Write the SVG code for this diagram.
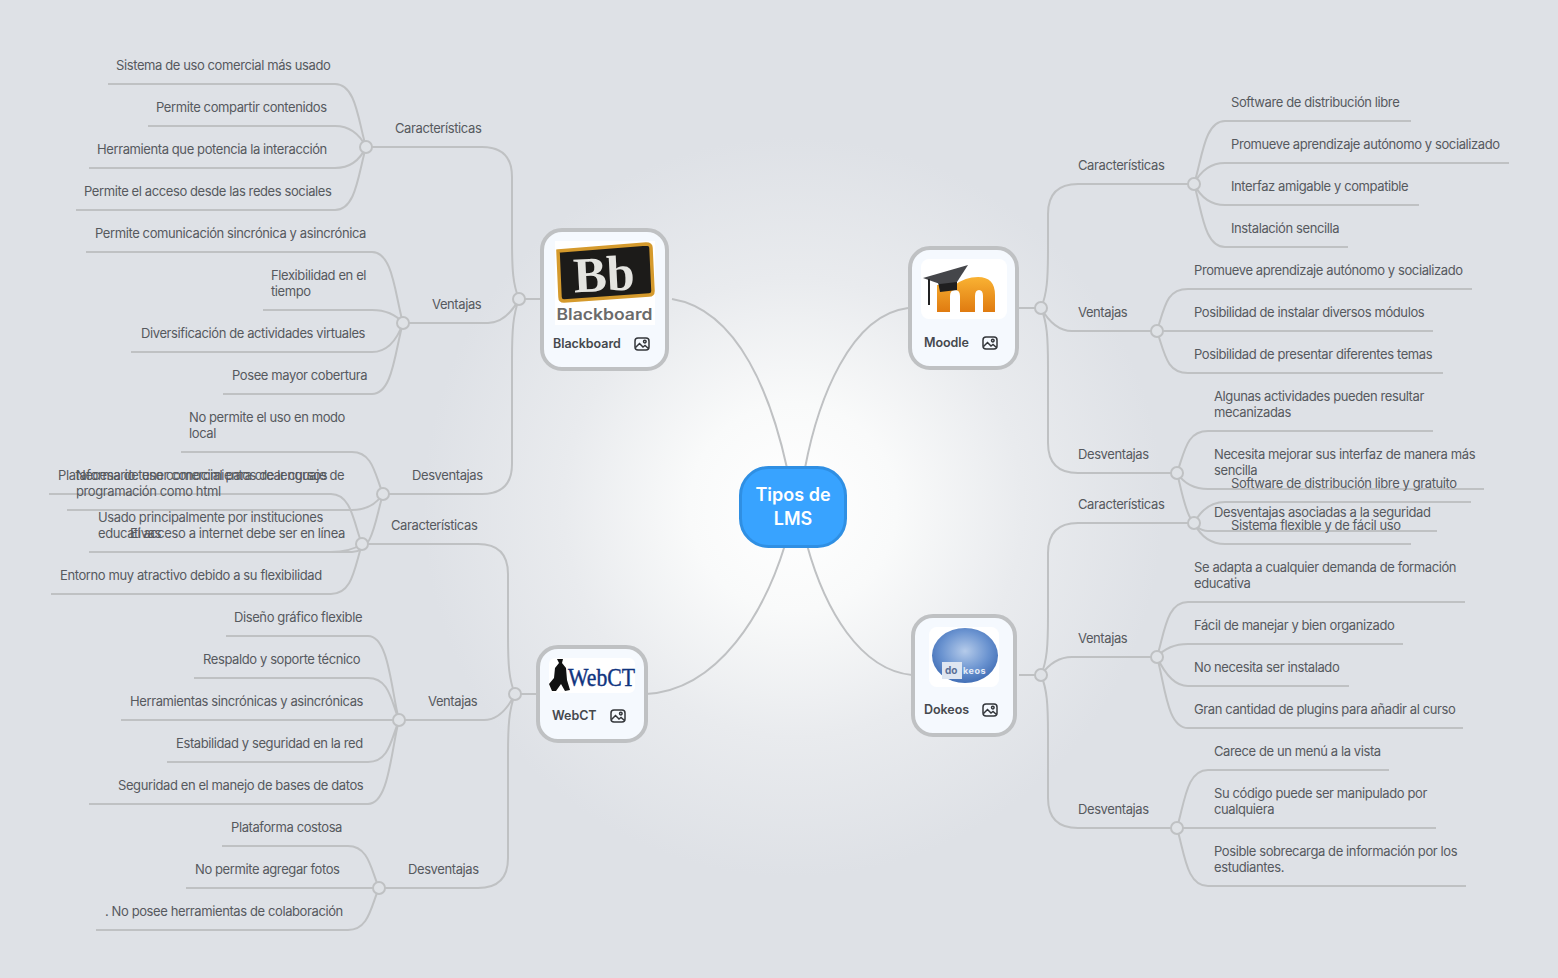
<svg xmlns="http://www.w3.org/2000/svg" width="1558" height="978" viewBox="0 0 1558 978">
<style>
text{font-family:Inter,"Noto Sans",sans-serif}
.t{font-size:13px;fill:#56595e;letter-spacing:-0.4px}
.b{font-size:12.5px;font-weight:600;fill:#45484d;letter-spacing:-0.05px}
.c path{fill:none;stroke:#bfc1c3;stroke-width:2}
.h{fill:#dfe2e6;stroke:#bfc1c3;stroke-width:2}
.n{fill:#f5f9fe;stroke:#bfc1c3;stroke-width:4}
.ic{fill:none;stroke:#33363a;stroke-width:1.5}
</style>
<defs>
<radialGradient id="bg" gradientUnits="userSpaceOnUse" cx="793" cy="507" r="370">
<stop offset="0" stop-color="#ffffff"/><stop offset="0.28" stop-color="#f9fafa"/><stop offset="0.62" stop-color="#e9ebee"/><stop offset="1" stop-color="#dee1e6"/>
</radialGradient>
<radialGradient id="dk" cx="0.5" cy="0.42" r="0.6"><stop offset="0" stop-color="#b5cbea"/><stop offset="0.6" stop-color="#6a93d0"/><stop offset="1" stop-color="#3f6cb4"/></radialGradient>
<linearGradient id="mo" x1="0" y1="0" x2="0" y2="1"><stop offset="0" stop-color="#f9b233"/><stop offset="1" stop-color="#e07b10"/></linearGradient>
<g id="ico"><rect x="-7" y="-6" width="14" height="12" rx="3" class="ic"/><circle cx="2.8" cy="-2.4" r="1.3" class="ic"/><path d="M-6.500 3.500 L-2.500 -0.500 L1 3 L3 1.500 L6.500 4.500" class="ic"/></g>
</defs>
<rect width="1558" height="978" fill="#dee1e6"/>
<rect width="1558" height="978" fill="url(#bg)"/>
<g id="connectors" class="c">
<path d="M787 468 C772 400 740 310 672 299"/>
<path d="M805 468 C818 400 850 315 908 308"/>
<path d="M785 545 C765 610 720 690 646 694"/>
<path d="M807 545 C825 610 860 670 912 675"/>
<path d="M541 299 H519 M519 299 C513 285 512 270 512 240 V177 Q512 147 482 147 H366 M519 299 Q506 323 488 323 H403 M519 299 C513 315 512 330 512 360 V464 Q512 494 482 494 H383"/>
<path d="M366 147 C358 120 356 84 335 84 H108 M366 147 C360 135 350 126 335 126 H148 M366 147 C360 160 350 168 335 168 H89 M366 147 C358 175 356 210 335 210 H76"/>
<path d="M403 323 C395 295 393 252 372 252 H86 M403 323 C397 316 387 310 372 310 H263 M403 323 C397 340 387 352 372 352 H131 M403 323 C395 350 393 394 372 394 H223"/>
<path d="M383 494 C375 475 373 452 352 452 H181 M383 494 C377 503 367 510 352 510 H67 M383 494 C375 520 373 552 352 552 H121"/>
<path d="M537 694 H515 M515 694 C509 680 508 665 508 635 V574 Q508 544 478 544 H362 M515 694 Q502 720 484 720 H399 M515 694 C509 710 508 725 508 755 V858 Q508 888 478 888 H379"/>
<path d="M362 544 C354 525 352 494 331 494 H49 M362 544 C356 548 346 552 331 552 H89 M362 544 C354 570 352 594 331 594 H51"/>
<path d="M399 720 C391 690 389 636 368 636 H226 M399 720 C391 700 389 678 368 678 H194 M399 720 H121 M399 720 C391 740 389 762 368 762 H167 M399 720 C391 750 389 804 368 804 H89"/>
<path d="M379 888 C371 870 369 846 348 846 H222 M379 888 H186 M379 888 C371 906 369 930 348 930 H96"/>
<path d="M1019 308 H1041 M1041 308 C1047 294 1048 279 1048 249 V214 Q1048 184 1078 184 H1194 M1041 308 Q1054 331 1072 331 H1157 M1041 308 C1047 322 1048 337 1048 367 V443 Q1048 473 1078 473 H1177"/>
<path d="M1194 184 C1202 160 1204 121 1225 121 H1411 M1194 184 C1200 172 1210 163 1225 163 H1509 M1194 184 C1200 196 1210 205 1225 205 H1419 M1194 184 C1202 210 1204 247 1225 247 H1348"/>
<path d="M1157 331 C1165 305 1167 289 1188 289 H1472 M1157 331 H1433 M1157 331 C1165 355 1167 373 1188 373 H1443"/>
<path d="M1177 473 C1185 450 1187 431 1208 431 H1433 M1177 473 C1183 482 1193 489 1208 489 H1484 M1177 473 C1183 495 1187 531 1208 531 H1437"/>
<path d="M1019 675 H1041 M1041 675 C1047 661 1048 646 1048 616 V553 Q1048 523 1078 523 H1194 M1041 675 Q1054 657 1072 657 H1157 M1041 675 C1047 689 1048 704 1048 734 V798 Q1048 828 1078 828 H1177"/>
<path d="M1194 523 C1200 512 1210 502 1225 502 H1471 M1194 523 C1200 535 1210 544 1225 544 H1411"/>
<path d="M1157 657 C1165 630 1167 602 1188 602 H1465 M1157 657 C1163 650 1173 644 1188 644 H1403 M1157 657 C1163 670 1173 686 1188 686 H1349 M1157 657 C1165 685 1167 728 1188 728 H1463"/>
<path d="M1177 828 C1185 800 1187 770 1208 770 H1389 M1177 828 H1436 M1177 828 C1185 856 1187 886 1208 886 H1466"/>
</g>
<g id="hubs">
<circle class="h" cx="519" cy="299" r="6"/><circle class="h" cx="366" cy="147" r="6"/><circle class="h" cx="403" cy="323" r="6"/><circle class="h" cx="383" cy="494" r="6"/>
<circle class="h" cx="515" cy="694" r="6"/><circle class="h" cx="362" cy="544" r="6"/><circle class="h" cx="399" cy="720" r="6"/><circle class="h" cx="379" cy="888" r="6"/>
<circle class="h" cx="1041" cy="308" r="6"/><circle class="h" cx="1194" cy="184" r="6"/><circle class="h" cx="1157" cy="331" r="6"/><circle class="h" cx="1177" cy="473" r="6"/>
<circle class="h" cx="1041" cy="675" r="6"/><circle class="h" cx="1194" cy="523" r="6"/><circle class="h" cx="1157" cy="657" r="6"/><circle class="h" cx="1177" cy="828" r="6"/>
</g>
<g id="labels">
<text class="t" x="116" y="70">Sistema de uso comercial más usado</text>
<text class="t" x="156" y="112">Permite compartir contenidos</text>
<text class="t" x="97" y="154">Herramienta que potencia la interacción</text>
<text class="t" x="84" y="196">Permite el acceso desde las redes sociales</text>
<text class="t" x="395" y="133">Características</text>
<text class="t" x="95" y="238">Permite comunicación sincrónica y asincrónica</text>
<text class="t" x="271" y="280">Flexibilidad en el</text><text class="t" x="271" y="296">tiempo</text>
<text class="t" x="141" y="338">Diversificación de actividades virtuales</text>
<text class="t" x="232" y="380">Posee mayor cobertura</text>
<text class="t" x="432" y="309">Ventajas</text>
<text class="t" x="189" y="422">No permite el uso en modo</text><text class="t" x="189" y="438">local</text>
<text class="t" x="76" y="480">Necesario tener conocimientos de lenguaje de</text><text class="t" x="76" y="496">programación como html</text>
<text class="t" x="130" y="538">El acceso a internet debe ser en línea</text>
<text class="t" x="412" y="480">Desventajas</text>
<text class="t" x="58" y="480">Plataforma de uso comercial para crear cursos</text>
<text class="t" x="98" y="522">Usado principalmente por instituciones</text><text class="t" x="98" y="538">educativas</text>
<text class="t" x="60" y="580">Entorno muy atractivo debido a su flexibilidad</text>
<text class="t" x="391" y="530">Características</text>
<text class="t" x="234" y="622">Diseño gráfico flexible</text>
<text class="t" x="203" y="664">Respaldo y soporte técnico</text>
<text class="t" x="130" y="706">Herramientas sincrónicas y asincrónicas</text>
<text class="t" x="176" y="748">Estabilidad y seguridad en la red</text>
<text class="t" x="118" y="790">Seguridad en el manejo de bases de datos</text>
<text class="t" x="428" y="706">Ventajas</text>
<text class="t" x="231" y="832">Plataforma costosa</text>
<text class="t" x="195" y="874">No permite agregar fotos</text>
<text class="t" x="105" y="916">. No posee herramientas de colaboración</text>
<text class="t" x="408" y="874">Desventajas</text>
<text class="t" x="1078" y="170">Características</text>
<text class="t" x="1231" y="107">Software de distribución libre</text>
<text class="t" x="1231" y="149">Promueve aprendizaje autónomo y socializado</text>
<text class="t" x="1231" y="191">Interfaz amigable y compatible</text>
<text class="t" x="1231" y="233">Instalación sencilla</text>
<text class="t" x="1078" y="317">Ventajas</text>
<text class="t" x="1194" y="275">Promueve aprendizaje autónomo y socializado</text>
<text class="t" x="1194" y="317">Posibilidad de instalar diversos módulos</text>
<text class="t" x="1194" y="359">Posibilidad de presentar diferentes temas</text>
<text class="t" x="1078" y="459">Desventajas</text>
<text class="t" x="1214" y="401">Algunas actividades pueden resultar</text><text class="t" x="1214" y="417">mecanizadas</text>
<text class="t" x="1214" y="459">Necesita mejorar sus interfaz de manera más</text><text class="t" x="1214" y="475">sencilla</text>
<text class="t" x="1214" y="517">Desventajas asociadas a la seguridad</text>
<text class="t" x="1078" y="509">Características</text>
<text class="t" x="1231" y="488">Software de distribución libre y gratuito</text>
<text class="t" x="1231" y="530">Sistema flexible y de fácil uso</text>
<text class="t" x="1078" y="643">Ventajas</text>
<text class="t" x="1194" y="572">Se adapta a cualquier demanda de formación</text><text class="t" x="1194" y="588">educativa</text>
<text class="t" x="1194" y="630">Fácil de manejar y bien organizado</text>
<text class="t" x="1194" y="672">No necesita ser instalado</text>
<text class="t" x="1194" y="714">Gran cantidad de plugins para añadir al curso</text>
<text class="t" x="1078" y="814">Desventajas</text>
<text class="t" x="1214" y="756">Carece de un menú a la vista</text>
<text class="t" x="1214" y="798">Su código puede ser manipulado por</text><text class="t" x="1214" y="814">cualquiera</text>
<text class="t" x="1214" y="856">Posible sobrecarga de información por los</text><text class="t" x="1214" y="872">estudiantes.</text>
</g>
<g id="root">
<rect x="740.500" y="467.500" width="105" height="79" rx="28" fill="#38a3ff" stroke="#2f8fe3" stroke-width="3"/>
<text x="793" y="501" text-anchor="middle" font-size="18" font-weight="600" fill="#fff">Tipos de</text>
<text x="793" y="525" text-anchor="middle" font-size="18" font-weight="600" fill="#fff">LMS</text>
</g>
<g id="blackboard">
<rect class="n" x="542" y="230" width="125" height="139" rx="20"/>
<rect x="555" y="241" width="100" height="84" fill="#fff"/>
<path d="M558 251 L646 244 Q651 244 651 248 L653 291 Q653 295 649 295 L564 301 Q560 301 560 297 Z" fill="#1c1b19" stroke="#d59a2c" stroke-width="3.500"/>
<text x="604" y="291" text-anchor="middle" font-size="50" font-weight="700" fill="#e4e4e0" transform="rotate(-3 604 275)" style="font-family:'Liberation Serif',serif">Bb</text>
<text x="604.500" y="320" text-anchor="middle" font-size="15.500" font-weight="600" fill="#6b6b6b" textLength="96" lengthAdjust="spacingAndGlyphs">Blackboard</text>
<text class="b" x="553" y="348">Blackboard</text>
<use href="#ico" x="642" y="344"/>
</g>
<g id="moodle">
<rect class="n" x="910" y="248" width="107" height="120" rx="20"/>
<rect x="921" y="259" width="86" height="60" rx="8" fill="#fff"/>
<path d="M937 312 V285 H955 Q965 277 978 277 Q995 277 995 295 V312 H983 V296 Q983 290 979 290 Q975 290 975 296 V312 H960 V296 Q960 290 955 290 Q950 290 950 296 V312 Z" fill="url(#mo)"/>
<path d="M938 282 L957 281 V290 L940 292 Z" fill="#1f1f20"/>
<path d="M923 278 L968 265 L957 282 L940 284 Z" fill="#45464a"/><path d="M929 279 V305" stroke="#222" stroke-width="2" fill="none"/>
<text class="b" x="924" y="347">Moodle</text>
<use href="#ico" x="990" y="343"/>
</g>
<g id="webct">
<rect class="n" x="538" y="647" width="108" height="94" rx="20"/>
<rect x="549" y="658" width="86" height="35" rx="6" fill="#fff"/>
<text x="601.500" y="686" text-anchor="middle" font-size="25" fill="#10347f" stroke="#10347f" stroke-width="0.400" textLength="67" lengthAdjust="spacingAndGlyphs" style="font-family:'Liberation Serif',serif">WebCT</text>
<path d="M557 659 L563 659 L562 663 L566 668 L567 680 L570 690 L565 691 L561 684 L556 691 L552 691 L549 684 L554 678 L555 668 L559 663 Z" fill="#111"/>
<text class="b" x="552" y="720">WebCT</text>
<use href="#ico" x="618" y="716"/>
</g>
<g id="dokeos">
<rect class="n" x="913" y="616" width="102" height="119" rx="20"/>
<rect x="929" y="627" width="70" height="60" rx="8" fill="#fff"/>
<ellipse cx="965" cy="655.500" rx="33" ry="27.500" fill="url(#dk)"/>
<rect x="942" y="662" width="20" height="17" fill="#dfe6f1"/>
<text x="945" y="674" font-size="10" font-weight="700" fill="#5a6f97">do</text>
<text x="963" y="674" font-size="9" font-weight="700" letter-spacing="0.500" fill="#e4ebf6">keos</text>
<text class="b" x="924" y="714">Dokeos</text>
<use href="#ico" x="990" y="710"/>
</g>
</svg>
